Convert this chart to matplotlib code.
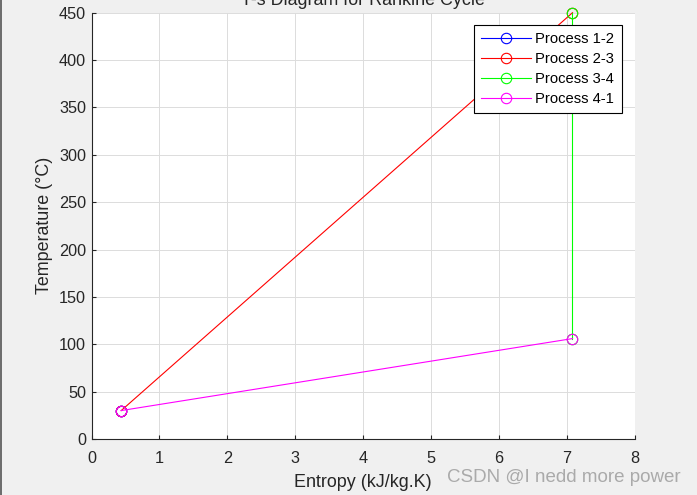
import matplotlib
matplotlib.use("Agg")
import matplotlib.pyplot as plt
from matplotlib.lines import Line2D

plt.rcParams['font.family'] = ['Liberation Sans', 'DejaVu Sans']

# state points of the cycle (entropy kJ/kg.K, temperature C)
s_pts = [0.4368, 0.4368, 7.08, 7.08]
T_pts = [30, 30, 450, 106]
processes = ['Process 1-2', 'Process 2-3', 'Process 3-4', 'Process 4-1']
colors = ['#0000ff', '#ff0000', '#00ff00', '#ff00ff']

x_ticks = [0, 1, 2, 3, 4, 5, 6, 7, 8]
y_ticks = [0, 50, 100, 150, 200, 250, 300, 350, 400, 450]

txt = '#262626'

fig = plt.figure(figsize=(6.97, 4.95), dpi=100, facecolor='#f0f0f0')
ax = fig.add_axes([91.5 / 697, 1 - 439 / 495, 543.5 / 697, 426.3 / 495])

for i in range(4):
    j = (i + 1) % 4
    ax.plot([s_pts[i], s_pts[j]], [T_pts[i], T_pts[j]], color=colors[i],
            lw=0.8, marker='o', markersize=7.5, markerfacecolor='none',
            markeredgewidth=0.8, label=processes[i], clip_on=False, zorder=3)

ax.set_xlim(0, 8)
ax.set_ylim(0, 450)
ax.set_xticks(x_ticks)
ax.set_yticks(y_ticks)
ax.grid(True, color='#dcdcdc', lw=0.7)
ax.set_axisbelow(True)
for side in ['top', 'right']:
    ax.spines[side].set_visible(False)
for side in ['left', 'bottom']:
    ax.spines[side].set_color(txt)
    ax.spines[side].set_linewidth(0.8)
ax.tick_params(axis='both', direction='in', length=3, width=0.8,
               colors=txt, labelsize=11.7)
ax.tick_params(axis='x', pad=8.5)
ax.tick_params(axis='y', pad=4)

ax.set_xlabel('Entropy (kJ/kg.K)', fontsize=12.9, color=txt)
ax.set_ylabel('Temperature (°C)', fontsize=12.9, color=txt)
ax.xaxis.set_label_coords(0.5, -0.082)
ax.yaxis.set_label_coords(-0.071, 0.5)
ax.set_title('T-s Diagram for Rankine Cycle', fontsize=12.9, color=txt,
             y=1.018, pad=0)

leg = ax.legend(loc='upper right', bbox_to_anchor=(621.7 / 697, 1 - 25 / 495),
                bbox_transform=fig.transFigure, borderaxespad=0,
                fontsize=10.6, fancybox=False, framealpha=1,
                edgecolor='black', handlelength=3.4, handletextpad=0.3,
                labelspacing=0.4, borderpad=0.5)
leg.get_frame().set_linewidth(0.8)
for t in leg.get_texts():
    t.set_color('black')

fig.add_artist(Line2D([0.5 / 697, 0.5 / 697], [0, 1], color='#555555',
                      lw=1.2, transform=fig.transFigure))
fig.text(446.7 / 697, 1 - 482.5 / 495, 'CSDN @I nedd more power',
         fontsize=13.5, color='#aaaaaa', va='baseline', ha='left')

fig.savefig('out.png', dpi=100, facecolor=fig.get_facecolor())
